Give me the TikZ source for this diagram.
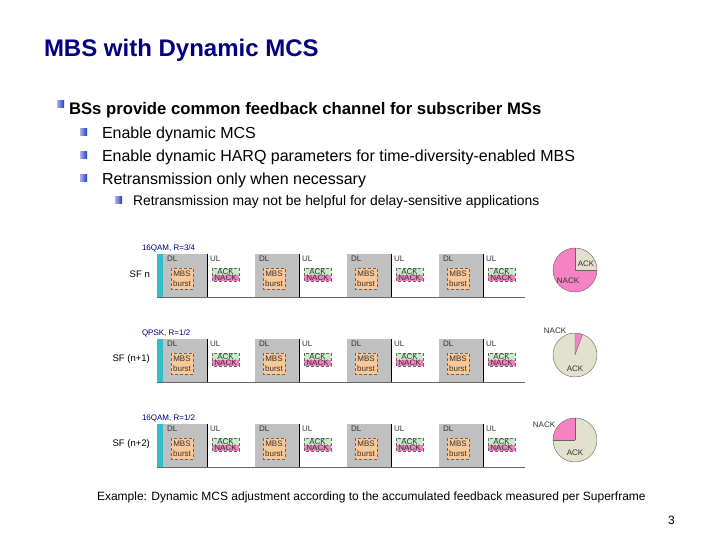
\documentclass[tikz,border=0pt]{standalone}
\usepackage{fontspec}
\setmainfont{Liberation Sans}
\definecolor{navy}{RGB}{0,0,128}
\definecolor{bul}{RGB}{40,60,200}
\definecolor{cyanbar}{RGB}{50,190,200}
\definecolor{dlgray}{RGB}{192,192,192}
\definecolor{burst}{RGB}{250,200,150}
\definecolor{ackc}{RGB}{200,235,200}
\definecolor{nackc}{RGB}{240,130,190}
\definecolor{piegray}{RGB}{225,225,205}
\definecolor{piepink}{RGB}{245,130,195}
\begin{document}
\begin{tikzpicture}[x=1pt,y=-1pt,
  txt/.style={anchor=base west,inner sep=0pt,outer sep=0pt},
  bsq/.style={left color=bul!40,right color=bul,draw=none},
  lbl/.style={inner sep=0pt,font=\fontsize{8}{9}\selectfont,text=black!80}]
\useasboundingbox (0,0) rectangle (720,540);
\node[txt,text=navy,font=\fontsize{24}{28}\selectfont\bfseries] (title) at (44,57) {MBS with Dynamic MCS};
\fill[bsq] (57,101) rectangle (64,108);
\node[txt,font=\bfseries\fontsize{16.7}{20}\selectfont] (b1) at (69,115) {BSs provide common feedback channel for subscriber MSs};
\foreach \y/\t [count=\i] in {139/Enable dynamic MCS,162/Enable dynamic HARQ parameters for time-diversity-enabled MBS,185/Retransmission only when necessary}{
  \fill[bsq] (80,\y-10) rectangle (87,\y-3);
  \node[txt,font=\fontsize{16}{18}\selectfont] (b2\i) at (102,\y) {\t};
}
\fill[bsq] (115,197) rectangle (122,204);
\node[txt,font=\fontsize{13.9}{16}\selectfont] (b3) at (133,206) {Retransmission may not be helpful for delay-sensitive applications};
% rows
\foreach \top/\mod/\sf [count=\k] in {254/16QAM{,} R=3{/}4/SF n, 339/QPSK{,} R=1{/}2/SF (n+1), 424/16QAM{,} R=1{/}2/SF (n+2)}{
  \node[txt,text=navy,font=\fontsize{8}{9}\selectfont] (mod\k) at (142,\top-4) {\mod};
  \node[anchor=east,inner sep=0pt,font=\fontsize{9.5}{11}\selectfont] (sf\k) at (150,\top+20) {\sf};
  \fill[cyanbar] (157,\top) rectangle (163,\top+43);
  \foreach \j in {0,1,2,3}{
    \pgfmathsetmacro{\xo}{163+92*\j}
    \fill[dlgray] (\xo,\top) rectangle (\xo+44,\top+43);
    \draw[black] (\xo+44,\top) -- (\xo+44,\top+43);
    \node[lbl,anchor=north west] at (\xo+4,\top+2) {DL};
    \node[lbl,anchor=north west] at (\xo+47,\top+2) {UL};
    \draw[fill=burst,draw=black!60,densely dashed,line width=0.4pt] (\xo+8,\top+14) rectangle (\xo+30,\top+35);
    \node[lbl] at (\xo+19,\top+19.5) {MBS};
    \node[lbl] at (\xo+19,\top+29.5) {burst};
    \fill[ackc] (\xo+49,\top+14) rectangle (\xo+76,\top+20.5);
    \fill[nackc] (\xo+49,\top+20.5) rectangle (\xo+76,\top+27);
    \draw[draw=black!60,densely dashed,line width=0.4pt] (\xo+49,\top+14) rectangle (\xo+76,\top+27);
    \node[lbl] at (\xo+62.5,\top+17.5) {ACK};
    \node[lbl] at (\xo+62.5,\top+24) {NACK};
  }
  \draw[black!60] (157,\top+43) -- (525,\top+43);
  \coordinate (pc\k) at (575,\top+16);
}
% pie 1
\fill[piepink] (pc1) circle (22);
\fill[piegray] (pc1) -- ++(0:22) arc[start angle=0,end angle=-90,radius=22] -- cycle;
\draw[black!60] (pc1) -- ++(22,0) (pc1) -- ++(0,-22);
\draw[black!60] (pc1) circle (22);
\node[lbl] at ([shift={(11,-6)}]pc1) {ACK};
\node[lbl] at ([shift={(-7,11)}]pc1) {NACK};
% pie 2
\fill[piegray] (pc2) circle (22);
\fill[piepink] (pc2) -- ++(0,-22) arc[start angle=-90,end angle=-70,radius=22] -- cycle;
\draw[black!60] (pc2) -- ++(0,-22) (pc2) -- ++(-70:22);
\draw[black!60] (pc2) circle (22);
\node[lbl] at ([shift={(-20,-24)}]pc2) {NACK};
\node[lbl] at ([shift={(0,14)}]pc2) {ACK};
% pie 3
\fill[piegray] (pc3) circle (22);
\fill[piepink] (pc3) -- ++(0,-22) arc[start angle=-90,end angle=-180,radius=22] -- cycle;
\draw[black!60] (pc3) -- ++(0,-22) (pc3) -- ++(-22,0);
\draw[black!60] (pc3) circle (22);
\node[lbl] at ([shift={(-31,-15)}]pc3) {NACK};
\node[lbl] at ([shift={(0,13)}]pc3) {ACK};
\node[txt,font=\fontsize{12}{14}\selectfont] (cap) at (97,500) {Example: Dynamic MCS adjustment according to the accumulated feedback measured per Superframe};
\node[txt,font=\fontsize{12}{14}\selectfont] (pg) at (668,524) {3};
\end{tikzpicture}
\end{document}
